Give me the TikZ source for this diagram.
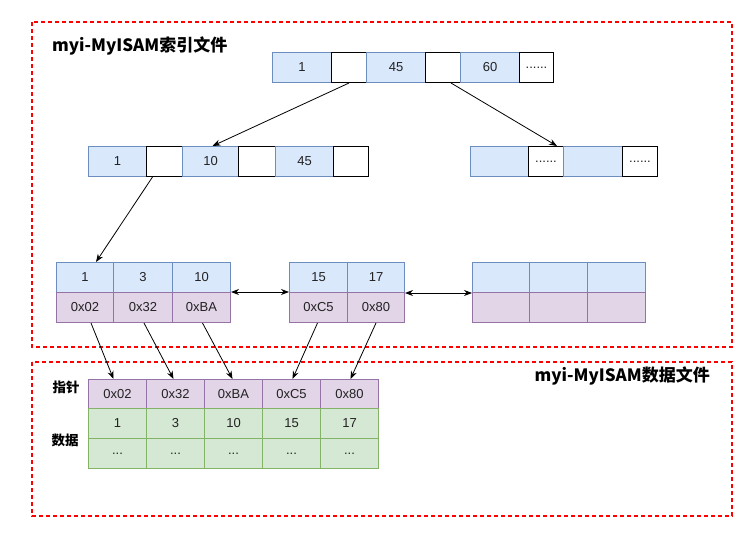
\documentclass[tikz,border=0pt]{standalone}
\usepackage{fontspec}
\setmainfont{Liberation Sans}
\newfontfamily\cjk{Noto Sans CJK SC}
\usetikzlibrary{arrows.meta,calc}
\definecolor{bfill}{HTML}{DAE8FC}
\definecolor{bline}{HTML}{6C8EBF}
\definecolor{pfill}{HTML}{E1D5E7}
\definecolor{pline}{HTML}{9673A6}
\definecolor{gfill}{HTML}{D5E8D4}
\definecolor{gline}{HTML}{82B366}
\definecolor{txt}{HTML}{222222}
\tikzset{
  cellbase/.style={rectangle, anchor=north west, inner sep=0pt, line width=1pt, font=\fontsize{13}{15}\selectfont, text=txt},
  bcell/.style={cellbase, draw=bline, fill=bfill},
  wcell/.style={cellbase, draw=black, fill=white},
  pcell/.style={cellbase, draw=pline, fill=pfill},
  gcell/.style={cellbase, draw=gline, fill=gfill},
  area/.style={draw=red, line width=1.3pt, dash pattern=on 4pt off 3pt},
  link/.style={-{Stealth[length=8pt,width=6pt]}, line width=0.8pt},
  blink/.style={{Stealth[length=8pt,width=6pt]}-{Stealth[length=8pt,width=6pt]}, line width=0.8pt},
  title/.style={font=\cjk\bfseries\fontsize{17}{20}\selectfont, inner sep=0pt},
  side/.style={font=\cjk\bfseries\fontsize{13.5}{16}\selectfont, inner sep=0pt}
}
\newcommand{\cell}[6]{\node[#1, minimum width=#4pt, minimum height=#5pt] (#2) at (#3) {#6};}
\begin{document}
\begin{tikzpicture}[x=1pt,y=-1pt]
\useasboundingbox (0,0) rectangle (752,543);
\draw[area] (32,22) rectangle (732,347);
\draw[area] (32,362) rectangle (732,516);
\node[title, anchor=west] (t1title) at (52,46) {myi-MyISAM索引文件};
\node[title, anchor=east] (t2title) at (710,376) {myi-MyISAM数据文件};
% top row
\cell{bcell}{t1}{272,52}{59}{30}{1}
\cell{wcell}{t2}{331,52}{35}{30}{}
\cell{bcell}{t3}{366,52}{59}{30}{45}
\cell{wcell}{t4}{425,52}{35}{30}{}
\cell{bcell}{t5}{460,52}{59}{30}{60}
\cell{wcell}{t6}{519,52}{34}{30}{......}
% middle left
\cell{bcell}{m1}{88,146}{58}{30}{1}
\cell{wcell}{m2}{146,146}{36}{30}{}
\cell{bcell}{m3}{182,146}{56}{30}{10}
\cell{wcell}{m4}{238,146}{37}{30}{}
\cell{bcell}{m5}{275,146}{58}{30}{45}
\cell{wcell}{m6}{333,146}{35}{30}{}
% middle right
\cell{bcell}{r1}{470,146}{58}{30}{}
\cell{wcell}{r2}{528,146}{35}{30}{......}
\cell{bcell}{r3}{563,146}{59}{30}{}
\cell{wcell}{r4}{622,146}{35}{30}{......}
% leaf 1
\cell{bcell}{a1}{56,262}{57}{30}{1}
\cell{bcell}{a2}{113,262}{59}{30}{3}
\cell{bcell}{a3}{172,262}{58}{30}{10}
\cell{pcell}{p1}{56,292}{57}{30}{0x02}
\cell{pcell}{p2}{113,292}{59}{30}{0x32}
\cell{pcell}{p3}{172,292}{58}{30}{0xBA}
% leaf 2
\cell{bcell}{b1}{289,262}{58}{30}{15}
\cell{bcell}{b2}{347,262}{57}{30}{17}
\cell{pcell}{q1}{289,292}{58}{30}{0xC5}
\cell{pcell}{q2}{347,292}{57}{30}{0x80}
% leaf 3
\cell{bcell}{c1}{472,262}{57}{30}{}
\cell{bcell}{c2}{529,262}{58}{30}{}
\cell{bcell}{c3}{587,262}{58}{30}{}
\cell{pcell}{s1}{472,292}{57}{30}{}
\cell{pcell}{s2}{529,292}{58}{30}{}
\cell{pcell}{s3}{587,292}{58}{30}{}
% data table
\cell{pcell}{d1}{88,379}{58}{29}{0x02}
\cell{pcell}{d2}{146,379}{58}{29}{0x32}
\cell{pcell}{d3}{204,379}{58}{29}{0xBA}
\cell{pcell}{d4}{262,379}{58}{29}{0xC5}
\cell{pcell}{d5}{320,379}{58}{29}{0x80}
\cell{gcell}{e1}{88,408}{58}{30}{1}
\cell{gcell}{e2}{146,408}{58}{30}{3}
\cell{gcell}{e3}{204,408}{58}{30}{10}
\cell{gcell}{e4}{262,408}{58}{30}{15}
\cell{gcell}{e5}{320,408}{58}{30}{17}
\cell{gcell}{f1}{88,438}{58}{30}{...}
\cell{gcell}{f2}{146,438}{58}{30}{...}
\cell{gcell}{f3}{204,438}{58}{30}{...}
\cell{gcell}{f4}{262,438}{58}{30}{...}
\cell{gcell}{f5}{320,438}{58}{30}{...}
\node[side] (lab1) at (66,387) {指针};
\node[side] (lab2) at (65,440) {数据};
% connectors
\draw[link] (t2.south) -- ($(m3.north)+(2,0)$);
\draw[link] ($(t4.south)+(8,0)$) -- ($(r2.north)+(11,0)$);
\draw[link] ($(m2.south)+(-12,0)$) -- ($(a1.north)+(11,0)$);
\draw[blink] (p3.north east) -- (q1.north west);
\draw[blink] ($(q2.north east)+(0,1)$) -- ($(s1.north west)+(0,1)$);
\draw[link] ($(p1.south)+(6,0)$) -- ($(d1.north)+(-4,0)$);
\draw[link] ($(p2.south)+(1,0)$) -- ($(d2.north)+(-2,0)$);
\draw[link] ($(p3.south)+(1,0)$) -- ($(d3.north)+(-1,0)$);
\draw[link] ($(q1.south)+(-1,0)$) -- ($(d4.north)+(1,0)$);
\draw[link] ($(q2.south)+(0,0)$) -- ($(d5.north)+(1,0)$);
\end{tikzpicture}
\end{document}
